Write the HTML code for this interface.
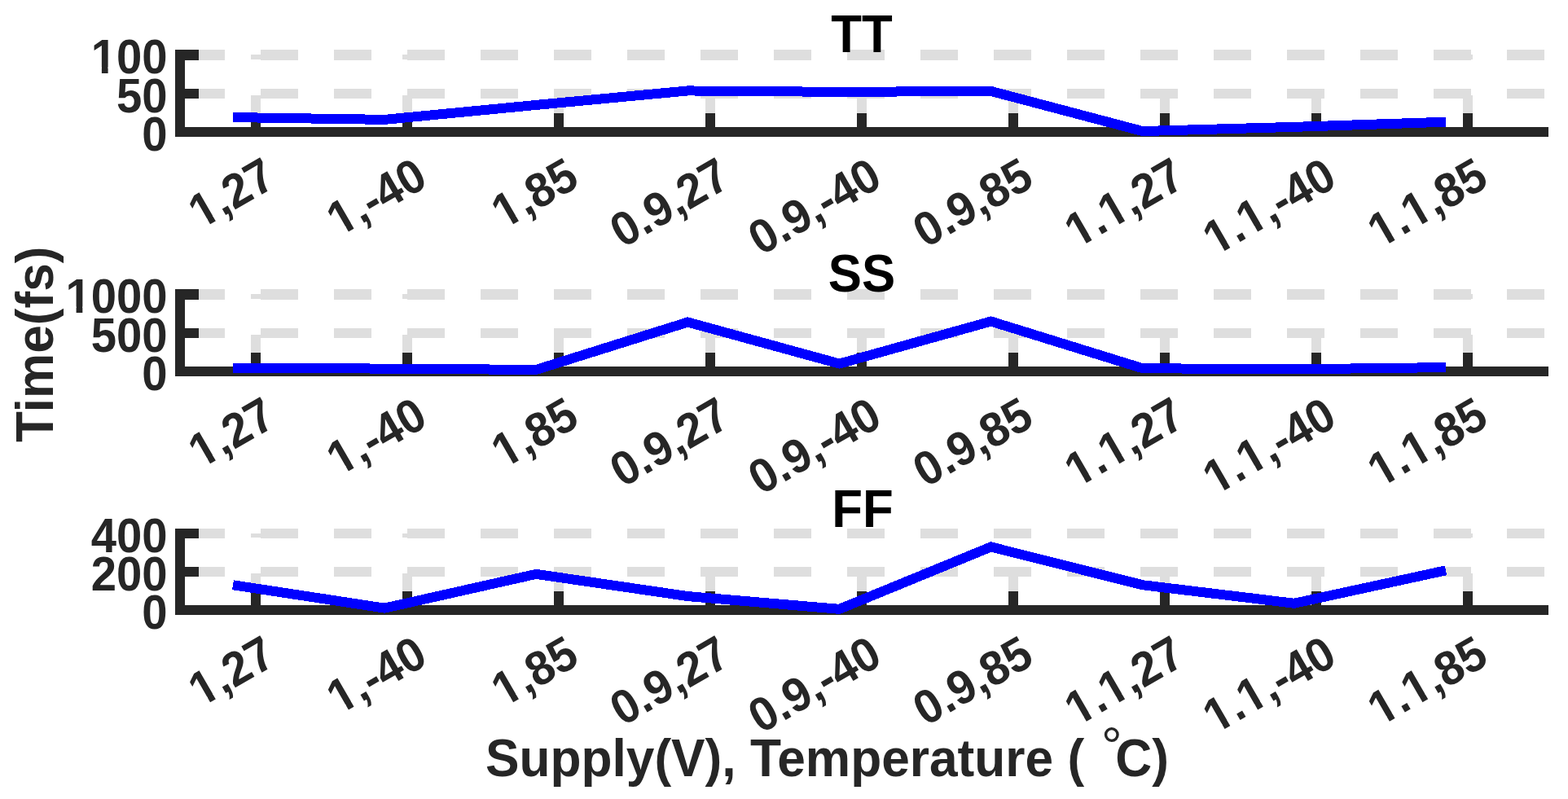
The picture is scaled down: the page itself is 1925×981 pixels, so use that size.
<!DOCTYPE html>
<html><head><meta charset="utf-8"><title>Chart</title>
<style>
html,body{margin:0;padding:0;background:#fff;}
body{width:1925px;height:981px;overflow:hidden;}
svg{display:block;}
text{font-family:"Liberation Sans",sans-serif;font-weight:bold;}
.t{font-size:58.9px;fill:#262626;}
.ti{font-size:65.3px;fill:#000;}
.lb{font-size:65.3px;fill:#262626;}
.g{fill:#dedede;}
.d{fill:#262626;}
</style></head><body>
<svg width="1925" height="981" viewBox="0 0 1925 981">
<rect width="1925" height="981" fill="#fff"/>

<g shape-rendering="crispEdges">
<rect class="g" x="230" y="61" width="46" height="13"/>
<rect class="g" x="320" y="61" width="46" height="13"/>
<rect class="g" x="410" y="61" width="46" height="13"/>
<rect class="g" x="500" y="61" width="46" height="13"/>
<rect class="g" x="590" y="61" width="46" height="13"/>
<rect class="g" x="680" y="61" width="46" height="13"/>
<rect class="g" x="770" y="61" width="46" height="13"/>
<rect class="g" x="860" y="61" width="46" height="13"/>
<rect class="g" x="950" y="61" width="46" height="13"/>
<rect class="g" x="1040" y="61" width="46" height="13"/>
<rect class="g" x="1130" y="61" width="46" height="13"/>
<rect class="g" x="1220" y="61" width="46" height="13"/>
<rect class="g" x="1310" y="61" width="46" height="13"/>
<rect class="g" x="1400" y="61" width="46" height="13"/>
<rect class="g" x="1490" y="61" width="46" height="13"/>
<rect class="g" x="1580" y="61" width="46" height="13"/>
<rect class="g" x="1670" y="61" width="46" height="13"/>
<rect class="g" x="1760" y="61" width="46" height="13"/>
<rect class="g" x="1850" y="61" width="46" height="13"/>
<rect class="g" x="230" y="109" width="46" height="12"/>
<rect class="g" x="320" y="109" width="46" height="12"/>
<rect class="g" x="410" y="109" width="46" height="12"/>
<rect class="g" x="500" y="109" width="46" height="12"/>
<rect class="g" x="590" y="109" width="46" height="12"/>
<rect class="g" x="680" y="109" width="46" height="12"/>
<rect class="g" x="770" y="109" width="46" height="12"/>
<rect class="g" x="860" y="109" width="46" height="12"/>
<rect class="g" x="950" y="109" width="46" height="12"/>
<rect class="g" x="1040" y="109" width="46" height="12"/>
<rect class="g" x="1130" y="109" width="46" height="12"/>
<rect class="g" x="1220" y="109" width="46" height="12"/>
<rect class="g" x="1310" y="109" width="46" height="12"/>
<rect class="g" x="1400" y="109" width="46" height="12"/>
<rect class="g" x="1490" y="109" width="46" height="12"/>
<rect class="g" x="1580" y="109" width="46" height="12"/>
<rect class="g" x="1670" y="109" width="46" height="12"/>
<rect class="g" x="1760" y="109" width="46" height="12"/>
<rect class="g" x="1850" y="109" width="46" height="12"/>
<rect class="g" x="308" y="117" width="12" height="45"/>
<rect class="g" x="308" y="67" width="12" height="5.5"/>
<rect class="g" x="494" y="117" width="12" height="45"/>
<rect class="g" x="494" y="67" width="12" height="5.5"/>
<rect class="g" x="680" y="117" width="12" height="45"/>
<rect class="g" x="680" y="67" width="12" height="5.5"/>
<rect class="g" x="866" y="117" width="12" height="45"/>
<rect class="g" x="866" y="67" width="12" height="5.5"/>
<rect class="g" x="1052" y="117" width="12" height="45"/>
<rect class="g" x="1052" y="67" width="12" height="5.5"/>
<rect class="g" x="1238" y="117" width="12" height="45"/>
<rect class="g" x="1238" y="67" width="12" height="5.5"/>
<rect class="g" x="1424" y="117" width="12" height="45"/>
<rect class="g" x="1424" y="67" width="12" height="5.5"/>
<rect class="g" x="1610" y="117" width="12" height="45"/>
<rect class="g" x="1610" y="67" width="12" height="5.5"/>
<rect class="g" x="1796" y="117" width="12" height="45"/>
<rect class="g" x="1796" y="67" width="12" height="5.5"/>
<rect class="d" x="215" y="61" width="12" height="107"/>
<rect class="d" x="215" y="156" width="1686" height="12"/>
<rect class="d" x="215" y="61" width="29" height="13"/>
<rect class="d" x="215" y="109" width="29" height="12"/>
<rect class="d" x="308" y="139" width="12" height="23"/>
<rect class="d" x="494" y="139" width="12" height="23"/>
<rect class="d" x="680" y="139" width="12" height="23"/>
<rect class="d" x="866" y="139" width="12" height="23"/>
<rect class="d" x="1052" y="139" width="12" height="23"/>
<rect class="d" x="1238" y="139" width="12" height="23"/>
<rect class="d" x="1424" y="139" width="12" height="23"/>
<rect class="d" x="1610" y="139" width="12" height="23"/>
<rect class="d" x="1796" y="139" width="12" height="23"/>
</g>
<polyline points="286.00,144.05 472.12,146.88 658.24,128.93 844.36,111.44 1030.48,112.86 1216.60,111.91 1402.72,161.06 1588.84,155.86 1774.96,149.72" fill="none" stroke="#0000ff" stroke-width="12" stroke-linejoin="miter" stroke-linecap="butt" shape-rendering="crispEdges"/>
<text class="t" transform="translate(205.60 184.70) scale(0.955 1)" text-anchor="end">0</text>
<text class="t" transform="translate(205.60 137.70) scale(0.955 1)" text-anchor="end">50</text>
<g transform="translate(205.60 90.20) scale(0.955 1)"><text class="t" text-anchor="end">100</text><rect fill="#fff" x="-96.06" y="-7.71" width="11.54" height="9.41"/><rect fill="#fff" x="-76.44" y="-7.71" width="10.79" height="9.41"/></g>
<g transform="translate(341.50 227.00) rotate(-30) scale(0.955 1)"><text class="t" text-anchor="end">1,27</text><rect fill="#fff" x="-112.43" y="-7.71" width="11.54" height="9.41"/><rect fill="#fff" x="-92.81" y="-7.71" width="10.79" height="9.41"/></g>
<g transform="translate(527.55 227.00) rotate(-30) scale(0.955 1)"><text class="t" text-anchor="end">1,-40</text><rect fill="#fff" x="-132.04" y="-7.71" width="11.54" height="9.41"/><rect fill="#fff" x="-112.42" y="-7.71" width="10.79" height="9.41"/></g>
<g transform="translate(713.60 227.00) rotate(-30) scale(0.955 1)"><text class="t" text-anchor="end">1,85</text><rect fill="#fff" x="-112.43" y="-7.71" width="11.54" height="9.41"/><rect fill="#fff" x="-92.81" y="-7.71" width="10.79" height="9.41"/></g>
<text class="t" transform="translate(899.65 227.00) rotate(-30) scale(0.955 1)" text-anchor="end">0.9,27</text>
<text class="t" transform="translate(1085.70 227.00) rotate(-30) scale(0.955 1)" text-anchor="end">0.9,-40</text>
<text class="t" transform="translate(1271.75 227.00) rotate(-30) scale(0.955 1)" text-anchor="end">0.9,85</text>
<g transform="translate(1457.80 227.00) rotate(-30) scale(0.955 1)"><text class="t" text-anchor="end">1.1,27</text><rect fill="#fff" x="-161.55" y="-7.71" width="11.54" height="9.41"/><rect fill="#fff" x="-141.93" y="-7.71" width="10.79" height="9.41"/><rect fill="#fff" x="-112.43" y="-7.71" width="11.54" height="9.41"/><rect fill="#fff" x="-92.81" y="-7.71" width="10.79" height="9.41"/></g>
<g transform="translate(1643.85 227.00) rotate(-30) scale(0.955 1)"><text class="t" text-anchor="end">1.1,-40</text><rect fill="#fff" x="-181.16" y="-7.71" width="11.54" height="9.41"/><rect fill="#fff" x="-161.54" y="-7.71" width="10.79" height="9.41"/><rect fill="#fff" x="-132.04" y="-7.71" width="11.54" height="9.41"/><rect fill="#fff" x="-112.42" y="-7.71" width="10.79" height="9.41"/></g>
<g transform="translate(1829.90 227.00) rotate(-30) scale(0.955 1)"><text class="t" text-anchor="end">1.1,85</text><rect fill="#fff" x="-161.55" y="-7.71" width="11.54" height="9.41"/><rect fill="#fff" x="-141.93" y="-7.71" width="10.79" height="9.41"/><rect fill="#fff" x="-112.43" y="-7.71" width="11.54" height="9.41"/><rect fill="#fff" x="-92.81" y="-7.71" width="10.79" height="9.41"/></g>
<text class="ti" transform="translate(1058.00 64.00) scale(0.946 1)" text-anchor="middle">TT</text>
<g shape-rendering="crispEdges">
<rect class="g" x="230" y="355" width="46" height="13"/>
<rect class="g" x="320" y="355" width="46" height="13"/>
<rect class="g" x="410" y="355" width="46" height="13"/>
<rect class="g" x="500" y="355" width="46" height="13"/>
<rect class="g" x="590" y="355" width="46" height="13"/>
<rect class="g" x="680" y="355" width="46" height="13"/>
<rect class="g" x="770" y="355" width="46" height="13"/>
<rect class="g" x="860" y="355" width="46" height="13"/>
<rect class="g" x="950" y="355" width="46" height="13"/>
<rect class="g" x="1040" y="355" width="46" height="13"/>
<rect class="g" x="1130" y="355" width="46" height="13"/>
<rect class="g" x="1220" y="355" width="46" height="13"/>
<rect class="g" x="1310" y="355" width="46" height="13"/>
<rect class="g" x="1400" y="355" width="46" height="13"/>
<rect class="g" x="1490" y="355" width="46" height="13"/>
<rect class="g" x="1580" y="355" width="46" height="13"/>
<rect class="g" x="1670" y="355" width="46" height="13"/>
<rect class="g" x="1760" y="355" width="46" height="13"/>
<rect class="g" x="1850" y="355" width="46" height="13"/>
<rect class="g" x="230" y="403" width="46" height="12"/>
<rect class="g" x="320" y="403" width="46" height="12"/>
<rect class="g" x="410" y="403" width="46" height="12"/>
<rect class="g" x="500" y="403" width="46" height="12"/>
<rect class="g" x="590" y="403" width="46" height="12"/>
<rect class="g" x="680" y="403" width="46" height="12"/>
<rect class="g" x="770" y="403" width="46" height="12"/>
<rect class="g" x="860" y="403" width="46" height="12"/>
<rect class="g" x="950" y="403" width="46" height="12"/>
<rect class="g" x="1040" y="403" width="46" height="12"/>
<rect class="g" x="1130" y="403" width="46" height="12"/>
<rect class="g" x="1220" y="403" width="46" height="12"/>
<rect class="g" x="1310" y="403" width="46" height="12"/>
<rect class="g" x="1400" y="403" width="46" height="12"/>
<rect class="g" x="1490" y="403" width="46" height="12"/>
<rect class="g" x="1580" y="403" width="46" height="12"/>
<rect class="g" x="1670" y="403" width="46" height="12"/>
<rect class="g" x="1760" y="403" width="46" height="12"/>
<rect class="g" x="1850" y="403" width="46" height="12"/>
<rect class="g" x="308" y="411" width="12" height="45"/>
<rect class="g" x="308" y="361" width="12" height="5.5"/>
<rect class="g" x="494" y="411" width="12" height="45"/>
<rect class="g" x="494" y="361" width="12" height="5.5"/>
<rect class="g" x="680" y="411" width="12" height="45"/>
<rect class="g" x="680" y="361" width="12" height="5.5"/>
<rect class="g" x="866" y="411" width="12" height="45"/>
<rect class="g" x="866" y="361" width="12" height="5.5"/>
<rect class="g" x="1052" y="411" width="12" height="45"/>
<rect class="g" x="1052" y="361" width="12" height="5.5"/>
<rect class="g" x="1238" y="411" width="12" height="45"/>
<rect class="g" x="1238" y="361" width="12" height="5.5"/>
<rect class="g" x="1424" y="411" width="12" height="45"/>
<rect class="g" x="1424" y="361" width="12" height="5.5"/>
<rect class="g" x="1610" y="411" width="12" height="45"/>
<rect class="g" x="1610" y="361" width="12" height="5.5"/>
<rect class="g" x="1796" y="411" width="12" height="45"/>
<rect class="g" x="1796" y="361" width="12" height="5.5"/>
<rect class="d" x="215" y="355" width="12" height="107"/>
<rect class="d" x="215" y="450" width="1686" height="12"/>
<rect class="d" x="215" y="355" width="29" height="13"/>
<rect class="d" x="215" y="403" width="29" height="12"/>
<rect class="d" x="308" y="433" width="12" height="23"/>
<rect class="d" x="494" y="433" width="12" height="23"/>
<rect class="d" x="680" y="433" width="12" height="23"/>
<rect class="d" x="866" y="433" width="12" height="23"/>
<rect class="d" x="1052" y="433" width="12" height="23"/>
<rect class="d" x="1238" y="433" width="12" height="23"/>
<rect class="d" x="1424" y="433" width="12" height="23"/>
<rect class="d" x="1610" y="433" width="12" height="23"/>
<rect class="d" x="1796" y="433" width="12" height="23"/>
</g>
<polyline points="286.00,451.65 472.12,452.60 658.24,453.92 844.36,395.52 1030.48,446.55 1216.60,394.57 1402.72,452.22 1588.84,453.35 1774.96,451.09" fill="none" stroke="#0000ff" stroke-width="12" stroke-linejoin="miter" stroke-linecap="butt" shape-rendering="crispEdges"/>
<text class="t" transform="translate(205.60 478.70) scale(0.955 1)" text-anchor="end">0</text>
<text class="t" transform="translate(205.60 431.70) scale(0.955 1)" text-anchor="end">500</text>
<g transform="translate(205.60 384.20) scale(0.955 1)"><text class="t" text-anchor="end">1000</text><rect fill="#fff" x="-128.82" y="-7.71" width="11.54" height="9.41"/><rect fill="#fff" x="-109.20" y="-7.71" width="10.79" height="9.41"/></g>
<g transform="translate(341.50 521.00) rotate(-30) scale(0.955 1)"><text class="t" text-anchor="end">1,27</text><rect fill="#fff" x="-112.43" y="-7.71" width="11.54" height="9.41"/><rect fill="#fff" x="-92.81" y="-7.71" width="10.79" height="9.41"/></g>
<g transform="translate(527.55 521.00) rotate(-30) scale(0.955 1)"><text class="t" text-anchor="end">1,-40</text><rect fill="#fff" x="-132.04" y="-7.71" width="11.54" height="9.41"/><rect fill="#fff" x="-112.42" y="-7.71" width="10.79" height="9.41"/></g>
<g transform="translate(713.60 521.00) rotate(-30) scale(0.955 1)"><text class="t" text-anchor="end">1,85</text><rect fill="#fff" x="-112.43" y="-7.71" width="11.54" height="9.41"/><rect fill="#fff" x="-92.81" y="-7.71" width="10.79" height="9.41"/></g>
<text class="t" transform="translate(899.65 521.00) rotate(-30) scale(0.955 1)" text-anchor="end">0.9,27</text>
<text class="t" transform="translate(1085.70 521.00) rotate(-30) scale(0.955 1)" text-anchor="end">0.9,-40</text>
<text class="t" transform="translate(1271.75 521.00) rotate(-30) scale(0.955 1)" text-anchor="end">0.9,85</text>
<g transform="translate(1457.80 521.00) rotate(-30) scale(0.955 1)"><text class="t" text-anchor="end">1.1,27</text><rect fill="#fff" x="-161.55" y="-7.71" width="11.54" height="9.41"/><rect fill="#fff" x="-141.93" y="-7.71" width="10.79" height="9.41"/><rect fill="#fff" x="-112.43" y="-7.71" width="11.54" height="9.41"/><rect fill="#fff" x="-92.81" y="-7.71" width="10.79" height="9.41"/></g>
<g transform="translate(1643.85 521.00) rotate(-30) scale(0.955 1)"><text class="t" text-anchor="end">1.1,-40</text><rect fill="#fff" x="-181.16" y="-7.71" width="11.54" height="9.41"/><rect fill="#fff" x="-161.54" y="-7.71" width="10.79" height="9.41"/><rect fill="#fff" x="-132.04" y="-7.71" width="11.54" height="9.41"/><rect fill="#fff" x="-112.42" y="-7.71" width="10.79" height="9.41"/></g>
<g transform="translate(1829.90 521.00) rotate(-30) scale(0.955 1)"><text class="t" text-anchor="end">1.1,85</text><rect fill="#fff" x="-161.55" y="-7.71" width="11.54" height="9.41"/><rect fill="#fff" x="-141.93" y="-7.71" width="10.79" height="9.41"/><rect fill="#fff" x="-112.43" y="-7.71" width="11.54" height="9.41"/><rect fill="#fff" x="-92.81" y="-7.71" width="10.79" height="9.41"/></g>
<text class="ti" transform="translate(1058.00 357.50) scale(0.946 1)" text-anchor="middle">SS</text>
<g shape-rendering="crispEdges">
<rect class="g" x="230" y="649" width="46" height="12"/>
<rect class="g" x="320" y="649" width="46" height="12"/>
<rect class="g" x="410" y="649" width="46" height="12"/>
<rect class="g" x="500" y="649" width="46" height="12"/>
<rect class="g" x="590" y="649" width="46" height="12"/>
<rect class="g" x="680" y="649" width="46" height="12"/>
<rect class="g" x="770" y="649" width="46" height="12"/>
<rect class="g" x="860" y="649" width="46" height="12"/>
<rect class="g" x="950" y="649" width="46" height="12"/>
<rect class="g" x="1040" y="649" width="46" height="12"/>
<rect class="g" x="1130" y="649" width="46" height="12"/>
<rect class="g" x="1220" y="649" width="46" height="12"/>
<rect class="g" x="1310" y="649" width="46" height="12"/>
<rect class="g" x="1400" y="649" width="46" height="12"/>
<rect class="g" x="1490" y="649" width="46" height="12"/>
<rect class="g" x="1580" y="649" width="46" height="12"/>
<rect class="g" x="1670" y="649" width="46" height="12"/>
<rect class="g" x="1760" y="649" width="46" height="12"/>
<rect class="g" x="1850" y="649" width="46" height="12"/>
<rect class="g" x="230" y="696" width="46" height="12"/>
<rect class="g" x="320" y="696" width="46" height="12"/>
<rect class="g" x="410" y="696" width="46" height="12"/>
<rect class="g" x="500" y="696" width="46" height="12"/>
<rect class="g" x="590" y="696" width="46" height="12"/>
<rect class="g" x="680" y="696" width="46" height="12"/>
<rect class="g" x="770" y="696" width="46" height="12"/>
<rect class="g" x="860" y="696" width="46" height="12"/>
<rect class="g" x="950" y="696" width="46" height="12"/>
<rect class="g" x="1040" y="696" width="46" height="12"/>
<rect class="g" x="1130" y="696" width="46" height="12"/>
<rect class="g" x="1220" y="696" width="46" height="12"/>
<rect class="g" x="1310" y="696" width="46" height="12"/>
<rect class="g" x="1400" y="696" width="46" height="12"/>
<rect class="g" x="1490" y="696" width="46" height="12"/>
<rect class="g" x="1580" y="696" width="46" height="12"/>
<rect class="g" x="1670" y="696" width="46" height="12"/>
<rect class="g" x="1760" y="696" width="46" height="12"/>
<rect class="g" x="1850" y="696" width="46" height="12"/>
<rect class="g" x="308" y="704" width="12" height="45"/>
<rect class="g" x="308" y="654.5" width="12" height="5.5"/>
<rect class="g" x="494" y="704" width="12" height="45"/>
<rect class="g" x="494" y="654.5" width="12" height="5.5"/>
<rect class="g" x="680" y="704" width="12" height="45"/>
<rect class="g" x="680" y="654.5" width="12" height="5.5"/>
<rect class="g" x="866" y="704" width="12" height="45"/>
<rect class="g" x="866" y="654.5" width="12" height="5.5"/>
<rect class="g" x="1052" y="704" width="12" height="45"/>
<rect class="g" x="1052" y="654.5" width="12" height="5.5"/>
<rect class="g" x="1238" y="704" width="12" height="45"/>
<rect class="g" x="1238" y="654.5" width="12" height="5.5"/>
<rect class="g" x="1424" y="704" width="12" height="45"/>
<rect class="g" x="1424" y="654.5" width="12" height="5.5"/>
<rect class="g" x="1610" y="704" width="12" height="45"/>
<rect class="g" x="1610" y="654.5" width="12" height="5.5"/>
<rect class="g" x="1796" y="704" width="12" height="45"/>
<rect class="g" x="1796" y="654.5" width="12" height="5.5"/>
<rect class="d" x="215" y="649" width="12" height="106"/>
<rect class="d" x="215" y="743" width="1686" height="12"/>
<rect class="d" x="215" y="649" width="29" height="12"/>
<rect class="d" x="215" y="696" width="29" height="12"/>
<rect class="d" x="308" y="726" width="12" height="23"/>
<rect class="d" x="494" y="726" width="12" height="23"/>
<rect class="d" x="680" y="726" width="12" height="23"/>
<rect class="d" x="866" y="726" width="12" height="23"/>
<rect class="d" x="1052" y="726" width="12" height="23"/>
<rect class="d" x="1238" y="726" width="12" height="23"/>
<rect class="d" x="1424" y="726" width="12" height="23"/>
<rect class="d" x="1610" y="726" width="12" height="23"/>
<rect class="d" x="1796" y="726" width="12" height="23"/>
</g>
<polyline points="286.00,718.22 472.12,746.65 658.24,704.82 844.36,732.08 1030.48,747.83 1216.60,671.45 1402.72,718.22 1588.84,740.77 1774.96,700.36" fill="none" stroke="#0000ff" stroke-width="12" stroke-linejoin="miter" stroke-linecap="butt" shape-rendering="crispEdges"/>
<text class="t" transform="translate(205.60 771.70) scale(0.955 1)" text-anchor="end">0</text>
<text class="t" transform="translate(205.60 724.70) scale(0.955 1)" text-anchor="end">200</text>
<text class="t" transform="translate(205.60 677.70) scale(0.955 1)" text-anchor="end">400</text>
<g transform="translate(341.50 814.00) rotate(-30) scale(0.955 1)"><text class="t" text-anchor="end">1,27</text><rect fill="#fff" x="-112.43" y="-7.71" width="11.54" height="9.41"/><rect fill="#fff" x="-92.81" y="-7.71" width="10.79" height="9.41"/></g>
<g transform="translate(527.55 814.00) rotate(-30) scale(0.955 1)"><text class="t" text-anchor="end">1,-40</text><rect fill="#fff" x="-132.04" y="-7.71" width="11.54" height="9.41"/><rect fill="#fff" x="-112.42" y="-7.71" width="10.79" height="9.41"/></g>
<g transform="translate(713.60 814.00) rotate(-30) scale(0.955 1)"><text class="t" text-anchor="end">1,85</text><rect fill="#fff" x="-112.43" y="-7.71" width="11.54" height="9.41"/><rect fill="#fff" x="-92.81" y="-7.71" width="10.79" height="9.41"/></g>
<text class="t" transform="translate(899.65 814.00) rotate(-30) scale(0.955 1)" text-anchor="end">0.9,27</text>
<text class="t" transform="translate(1085.70 814.00) rotate(-30) scale(0.955 1)" text-anchor="end">0.9,-40</text>
<text class="t" transform="translate(1271.75 814.00) rotate(-30) scale(0.955 1)" text-anchor="end">0.9,85</text>
<g transform="translate(1457.80 814.00) rotate(-30) scale(0.955 1)"><text class="t" text-anchor="end">1.1,27</text><rect fill="#fff" x="-161.55" y="-7.71" width="11.54" height="9.41"/><rect fill="#fff" x="-141.93" y="-7.71" width="10.79" height="9.41"/><rect fill="#fff" x="-112.43" y="-7.71" width="11.54" height="9.41"/><rect fill="#fff" x="-92.81" y="-7.71" width="10.79" height="9.41"/></g>
<g transform="translate(1643.85 814.00) rotate(-30) scale(0.955 1)"><text class="t" text-anchor="end">1.1,-40</text><rect fill="#fff" x="-181.16" y="-7.71" width="11.54" height="9.41"/><rect fill="#fff" x="-161.54" y="-7.71" width="10.79" height="9.41"/><rect fill="#fff" x="-132.04" y="-7.71" width="11.54" height="9.41"/><rect fill="#fff" x="-112.42" y="-7.71" width="10.79" height="9.41"/></g>
<g transform="translate(1829.90 814.00) rotate(-30) scale(0.955 1)"><text class="t" text-anchor="end">1.1,85</text><rect fill="#fff" x="-161.55" y="-7.71" width="11.54" height="9.41"/><rect fill="#fff" x="-141.93" y="-7.71" width="10.79" height="9.41"/><rect fill="#fff" x="-112.43" y="-7.71" width="11.54" height="9.41"/><rect fill="#fff" x="-92.81" y="-7.71" width="10.79" height="9.41"/></g>
<text class="ti" transform="translate(1059.00 647.00) scale(0.946 1)" text-anchor="middle">FF</text>
<text class="lb" transform="translate(65.20 422.80) rotate(-90) scale(0.951 1)" text-anchor="middle">Time(fs)</text>
<text class="lb" transform="translate(596.00 953.00) scale(0.953 1)" text-anchor="start">Supply(V), Temperature (</text>
<text transform="translate(1364.7 938)" text-anchor="middle" style="font-weight:normal;font-size:64px;fill:#262626">°</text>
<text class="lb" transform="translate(1435.00 953.00) scale(0.953 1)" text-anchor="end">C)</text>
</svg>
</body></html>
